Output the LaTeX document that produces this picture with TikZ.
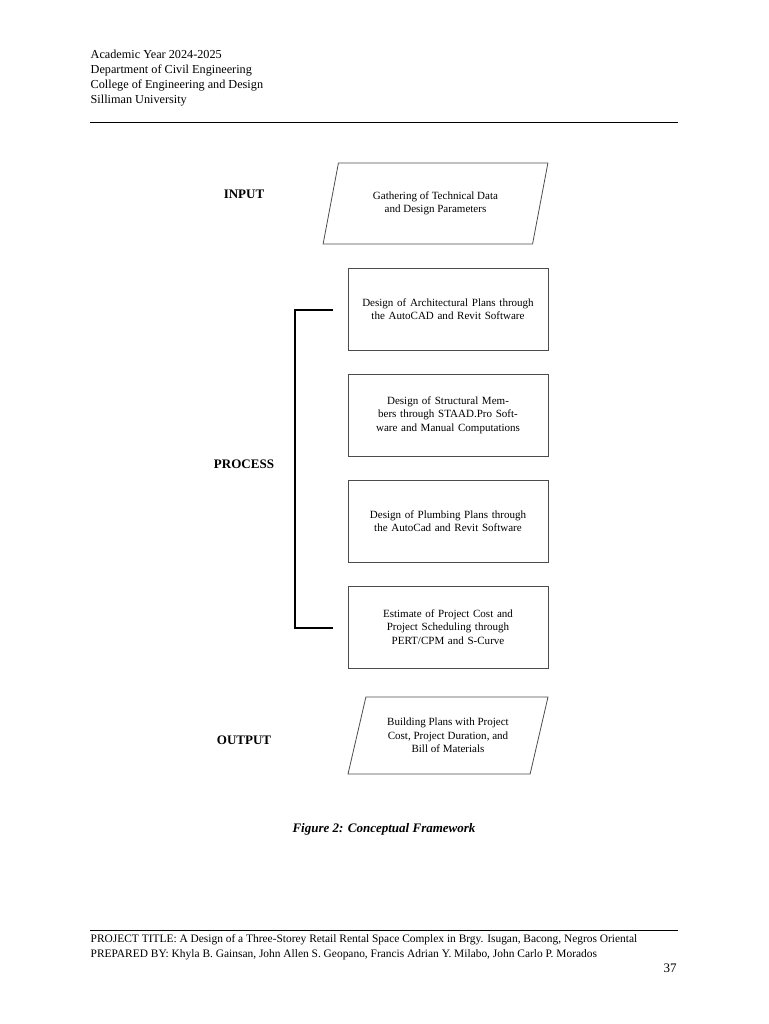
\documentclass[tikz,border=0pt]{standalone}
\usepackage{fontspec}
\setmainfont{Liberation Serif}
\usetikzlibrary{shapes.geometric}
\begin{document}
\begin{tikzpicture}[x=0.02646cm, y=-0.02646cm,
    box style/.style={draw=black!70, line width=0.6pt, minimum width=200\pgflinewidth, text width=190*0.02646cm, align=center, font=\fontsize{8.3}{10.2}\selectfont},
    io style/.style={draw=black!70, line width=0.6pt, trapezium, trapezium left angle=72, trapezium right angle=108, trapezium stretches=true, align=center, font=\fontsize{8.3}{10.2}\selectfont},
    label style/.style={font=\bfseries\fontsize{9.8}{12}\selectfont},
    text style/.style={anchor=west, align=left, font=\fontsize{9.2}{11.3}\selectfont}]
    \useasboundingbox (0,0) rectangle (768,1024);

    % header
    \node[text style, anchor=north west] (head) at (86,45) {Academic Year 2024-2025\\Department of Civil Engineering\\College of Engineering and Design\\Silliman University};
    \draw[line width=0.6pt] (90,122) -- (678,122);

    % input / output
    \node[io style, minimum width=225*0.02646cm, minimum height=81*0.02646cm] (input) at (435.5,203.5) {Gathering of Technical Data\\and Design Parameters};
    \node[io style, minimum width=200*0.02646cm, minimum height=77*0.02646cm] (output) at (448,735.5) {Building Plans with Project\\Cost, Project Duration, and\\Bill of Materials};

    % process boxes
    \node[box style, minimum width=200*0.02646cm, minimum height=82*0.02646cm] (arch) at (448,309) {Design of Architectural Plans through the AutoCAD and Revit Software};
    \node[box style, minimum width=200*0.02646cm, minimum height=82*0.02646cm] (struct) at (448,415) {Design of Structural Members through STAAD.Pro Software and Manual Computations};
    \node[box style, minimum width=200*0.02646cm, minimum height=82*0.02646cm] (plumb) at (448,521) {Design of Plumbing Plans through the AutoCad and Revit Software};
    \node[box style, minimum width=200*0.02646cm, minimum height=82*0.02646cm] (cost) at (448,627) {Estimate of Project Cost and Project Scheduling through PERT/CPM and S-Curve};

    % labels
    \node[label style] (lin) at (244,194) {INPUT};
    \node[label style] (lproc) at (244,464) {PROCESS};
    \node[label style] (lout) at (244,740) {OUTPUT};

    % bracket
    \coordinate (b1) at (333,310);
    \coordinate (b2) at (333,628);
    \draw[line width=1.2pt] (b1) -- (295,310) -- (295,628) -- (b2);

    % caption
    \node[font=\bfseries\itshape\fontsize{9.8}{12}\selectfont] (cap) at (384,829) {Figure 2: Conceptual Framework};

    % footer
    \draw[line width=0.6pt] (90,930) -- (678,930);
    \node[text style, anchor=north west, font=\fontsize{8.6}{11}\selectfont] (foot) at (86,930) {PROJECT TITLE: A Design of a Three-Storey Retail Rental Space Complex in Brgy. Isugan, Bacong, Negros Oriental\\PREPARED BY: Khyla B. Gainsan, John Allen S. Geopano, Francis Adrian Y. Milabo, John Carlo P. Morados};
    \node[font=\fontsize{9.8}{12}\selectfont] (page) at (670,968) {37};
\end{tikzpicture}
\end{document}
